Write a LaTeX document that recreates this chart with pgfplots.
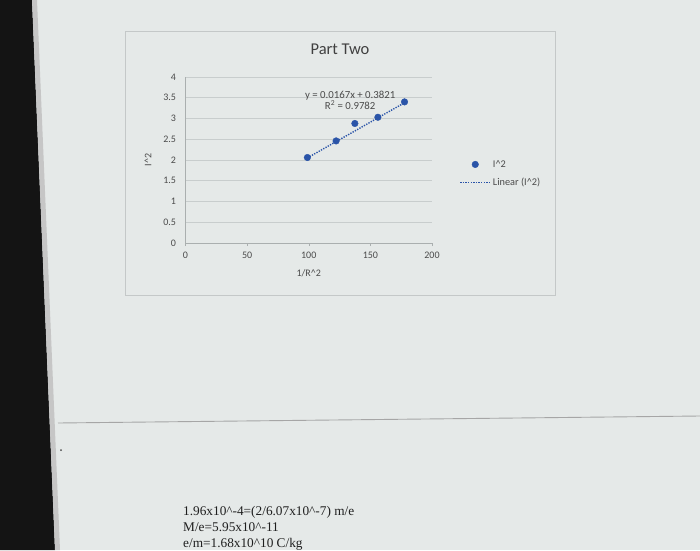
\documentclass[border=0pt]{standalone}
\usepackage{fontspec}
\setmainfont{Carlito}
\newfontfamily\timesfont{Liberation Serif}
\usepackage{pgfplots}
\pgfplotsset{compat=1.18}
\definecolor{screenbg}{RGB}{229,233,232}
\definecolor{framegray}{RGB}{196,200,200}
\definecolor{gridgray}{RGB}{200,205,205}
\definecolor{axisgray}{RGB}{170,175,175}
\definecolor{labelgray}{RGB}{75,75,75}
\definecolor{markerblue}{RGB}{42,84,168}
\pgfplotsset{
  markleg/.style={legend image code/.code={\draw[##1, mark repeat=2, mark phase=2] plot coordinates {(0pt,0pt) (15pt,0pt) (30pt,0pt)};}},
  lineleg/.style={legend image code/.code={\draw[##1] (0pt,0pt) -- (30pt,0pt);}},
}
\begin{document}
\begin{tikzpicture}
% screen photo background
\path[use as bounding box, fill=screenbg] (0pt,0pt) rectangle (700pt,550pt);
\fill[black!92] (0pt,550pt) -- (32pt,550pt) -- (55pt,0pt) -- (0pt,0pt) -- cycle;
\fill[gray!45] (32pt,550pt) -- (37pt,550pt) -- (60pt,0pt) -- (55pt,0pt) -- cycle;
\draw[gray!70, line width=0.9pt] (58pt,127pt) -- (700pt,134pt);
\fill[black!70] (61pt,100pt) circle (1pt);
% chart area frame
\draw[framegray, line width=0.8pt] (125pt,255pt) rectangle (555pt,519pt);
\node[font=\fontsize{16.5}{19}\selectfont, text=black!75] at (340pt,501pt) {Part Two};

\begin{axis}[
    at={(185.5pt,307pt)}, anchor=south west,
    width=246.5pt, height=166pt, scale only axis,
    xmin=0, xmax=200, ymin=0, ymax=4,
    xtick={0,50,...,200}, ytick={0,0.5,...,4},
    xticklabels={0,50,100,150,200},
    yticklabels={0,0.5,1,1.5,2,2.5,3,3.5,4},
    axis x line=bottom, axis y line=left,
    axis line style={-, draw=axisgray, line width=0.7pt},
    ymajorgrids, grid style={gridgray, line width=0.7pt},
    tick align=outside, major tick length=3pt,
    xtick style={draw=axisgray}, ytick style={draw=none},
    ticklabel style={font=\fontsize{10}{12}\selectfont, text=labelgray},
    xticklabel style={yshift=-2pt},
    yticklabel style={xshift=-3pt},
    xlabel={1/R\textasciicircum 2},
    ylabel={I\textasciicircum 2},
    label style={font=\fontsize{10}{12}\selectfont, text=labelgray},
    xlabel style={at={(axis description cs:0.5,0)}, anchor=north, yshift=-23pt},
    ylabel style={at={(axis description cs:-0.152,0.5)}, anchor=center},
    legend style={at={(1.111,0.512)}, anchor=north west, draw=none, fill=none,
        font=\fontsize{10.3}{12}\selectfont, text=labelgray, row sep=5.5pt, inner sep=0pt},
    legend cell align=left,
    clip=false,
]
\addplot[only marks, mark=*, mark size=3.3pt, markerblue, markleg]
    coordinates {(98.9,2.06) (122.2,2.46) (137.4,2.88) (156.1,3.03) (177.7,3.40)};
\addlegendentry{I\textasciicircum 2}
\addplot[markerblue, line width=1.4pt, dash pattern=on 1.3pt off 1.3pt, lineleg]
    coordinates {(98.9,2.05) (177.7,3.38)};
\addlegendentry{Linear (I\textasciicircum 2)}
\node[align=center, font=\fontsize{10.8}{11.5}\selectfont, text=labelgray] at (axis cs:133.6,3.44)
    {y = 0.0167x + 0.3821\\R\textsuperscript{2} = 0.9782};
\end{axis}

% notes below the chart
\begin{scope}[font=\timesfont\fontsize{13.3}{15}\selectfont, text=black!88]
\node[anchor=base west, inner sep=0pt] at (183pt,35pt) {1.96x10\textasciicircum-4=(2/6.07x10\textasciicircum-7) m/e};
\node[anchor=base west, inner sep=0pt] at (183pt,19pt) {M/e=5.95x10\textasciicircum-11};
\node[anchor=base west, inner sep=0pt] at (183pt,3pt) {e/m=1.68x10\textasciicircum10 C/kg};
\end{scope}
\end{tikzpicture}
\end{document}
